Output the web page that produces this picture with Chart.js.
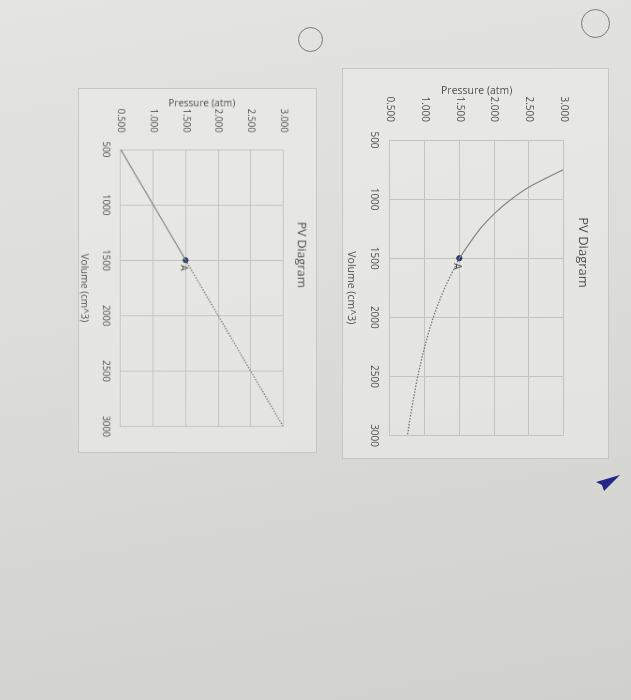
<!DOCTYPE html>
<html>
<head>
<meta charset="utf-8">
<script src="https://cdn.jsdelivr.net/npm/chart.js@4"></script>
<style>
  html, body { margin: 0; padding: 0; }
  body {
    width: 631px; height: 700px; overflow: hidden; position: relative;
    background: linear-gradient(170deg, #e4e4e1 0%, #dcdcd9 45%, #d0d0cc 100%);
    font-family: "Open Sans", sans-serif;
  }
  .card { position: absolute; border: 1px solid #c6c6c2; background: rgba(236,236,233,0.55); }
  .holder { position: absolute; transform-origin: 0 0; }
  .ring { position: absolute; border: 1.5px solid #7a7a78; border-radius: 50%; }
</style>
</head>
<body>
<div class="ring" style="left:581px;top:9px;width:27px;height:27px;"></div>
<div class="ring" style="left:298px;top:27px;width:23px;height:23px;"></div>
<div class="card" style="left:342px;top:68px;width:265px;height:389px;"></div>
<div class="card" style="left:78px;top:88px;width:237px;height:363px;"></div>
<svg style="position:absolute;left:0;top:0" width="631" height="700">
  <polygon points="620,475 596,482 602,485 604,491" fill="#25258a"/>
</svg>

<div class="holder" style="left:607px;top:68px;transform:rotate(90deg);">
  <canvas id="pv1" width="389" height="265"></canvas>
</div>
<div class="holder" style="left:324px;top:82px;transform:rotate(90deg) scale(0.937);">
  <canvas id="pv2" width="389" height="265"></canvas>
</div>

<script>
// volume ticks (cm^3) and pressure ticks (atm)
var volumeTicks = [500, 1000, 1500, 2000, 2500, 3000]
var pressureTicks = [0.5, 1.0, 1.5, 2.0, 2.5, 3.0]

// chart 1: curved path, solid up to A, dotted after A
var curveSolidV = [750, 900, 1000, 1125, 1250, 1500]
var curveSolidP = [3.0, 2.5, 2.25, 2.0, 1.8, 1.5]
var curveDotV = [1500, 1750, 2000, 2250, 2500, 2750, 3000]
var curveDotP = [1.5, 1.29, 1.125, 1.0, 0.9, 0.82, 0.75]

// chart 2: straight path
var lineSolidV = [500, 1500]
var lineSolidP = [0.5, 1.5]
var lineDotV = [1500, 3000]
var lineDotP = [1.5, 3.0]

// state A on both
var pointAV = [1500]
var pointAP = [1.5]

function pts(vs, ps) {
    return vs.map((v, i) => ({ x: v, y: ps[i] }))
}

var textColor = '#505050'
var gridColor = '#c3c3c0'

// writes "A" next to the marked point
var labelA = {
    id: 'labelA',
    afterDatasetsDraw: function (chart) {
        var meta = chart.getDatasetMeta(2)
        var ctx = chart.ctx
        ctx.save()
        ctx.fillStyle = '#4a4a4a'
        ctx.font = '10px "Open Sans"'
        ctx.textAlign = 'left'
        ctx.textBaseline = 'middle'
        meta.data.forEach((p) => {
            ctx.fillText('A', p.x + 5, p.y + 3)
        })
        ctx.restore()
    }
}

function makeChart(id, solid, dotted, tension) {
    var ctx = document.getElementById(id).getContext('2d')
    return new Chart(ctx, {
        type: 'scatter',
        data: {
            datasets: [{
                data: solid,
                showLine: true,
                borderColor: '#858585',
                borderWidth: 1.2,
                pointRadius: 0,
                tension: tension,
                cubicInterpolationMode: 'monotone'
            },
            {
                data: dotted,
                showLine: true,
                borderColor: '#777777',
                borderWidth: 1.3,
                borderDash: [1.5, 1.5],
                pointRadius: 0,
                tension: tension,
                cubicInterpolationMode: 'monotone'
            },
            {
                data: pts(pointAV, pointAP),
                pointRadius: 2.6,
                pointBackgroundColor: '#1f3a66',
                pointBorderColor: '#1f3a66'
            }]
        },
        options: {
            responsive: false,
            animation: false,
            layout: { padding: { top: 0, right: 20, bottom: 0, left: 0 } },
            plugins: {
                legend: { display: false },
                tooltip: { enabled: false },
                title: {
                    display: true,
                    text: 'PV Diagram',
                    color: textColor,
                    font: { family: 'Open Sans', size: 13, weight: 'normal' },
                    padding: { top: 16, bottom: 12 }
                }
            },
            scales: {
                x: {
                    type: 'linear',
                    min: volumeTicks[0],
                    max: volumeTicks[volumeTicks.length - 1],
                    afterBuildTicks: (s) => { s.ticks = volumeTicks.map((v) => ({ value: v })) },
                    afterFit: (s) => { s.height = 48 },
                    grid: { color: gridColor, drawTicks: false },
                    border: { color: gridColor },
                    ticks: {
                        color: textColor,
                        font: { family: 'Open Sans', size: 10 },
                        padding: 10,
                        maxRotation: 0,
                        callback: (v) => String(v)
                    },
                    title: {
                        display: true,
                        text: 'Volume (cm^3)',
                        color: textColor,
                        font: { family: 'Open Sans', size: 10.5 },
                        padding: { top: 0, bottom: 3 }
                    }
                },
                y: {
                    type: 'linear',
                    min: pressureTicks[0],
                    max: pressureTicks[pressureTicks.length - 1],
                    afterBuildTicks: (s) => { s.ticks = pressureTicks.map((v) => ({ value: v })) },
                    afterFit: (s) => { s.width = 72 },
                    grid: { color: gridColor, drawTicks: false },
                    border: { color: gridColor },
                    ticks: {
                        color: textColor,
                        font: { family: 'Open Sans', size: 10 },
                        padding: 18,
                        callback: (v) => v.toFixed(3)
                    },
                    title: {
                        display: true,
                        text: 'Pressure (atm)',
                        color: textColor,
                        font: { family: 'Open Sans', size: 10.5 },
                        padding: { top: 17, bottom: 0 }
                    }
                }
            }
        },
        plugins: [labelA]
    })
}

makeChart('pv1', pts(curveSolidV, curveSolidP), pts(curveDotV, curveDotP), 0.4)
makeChart('pv2', pts(lineSolidV, lineSolidP), pts(lineDotV, lineDotP), 0)
</script>
</body>
</html>
